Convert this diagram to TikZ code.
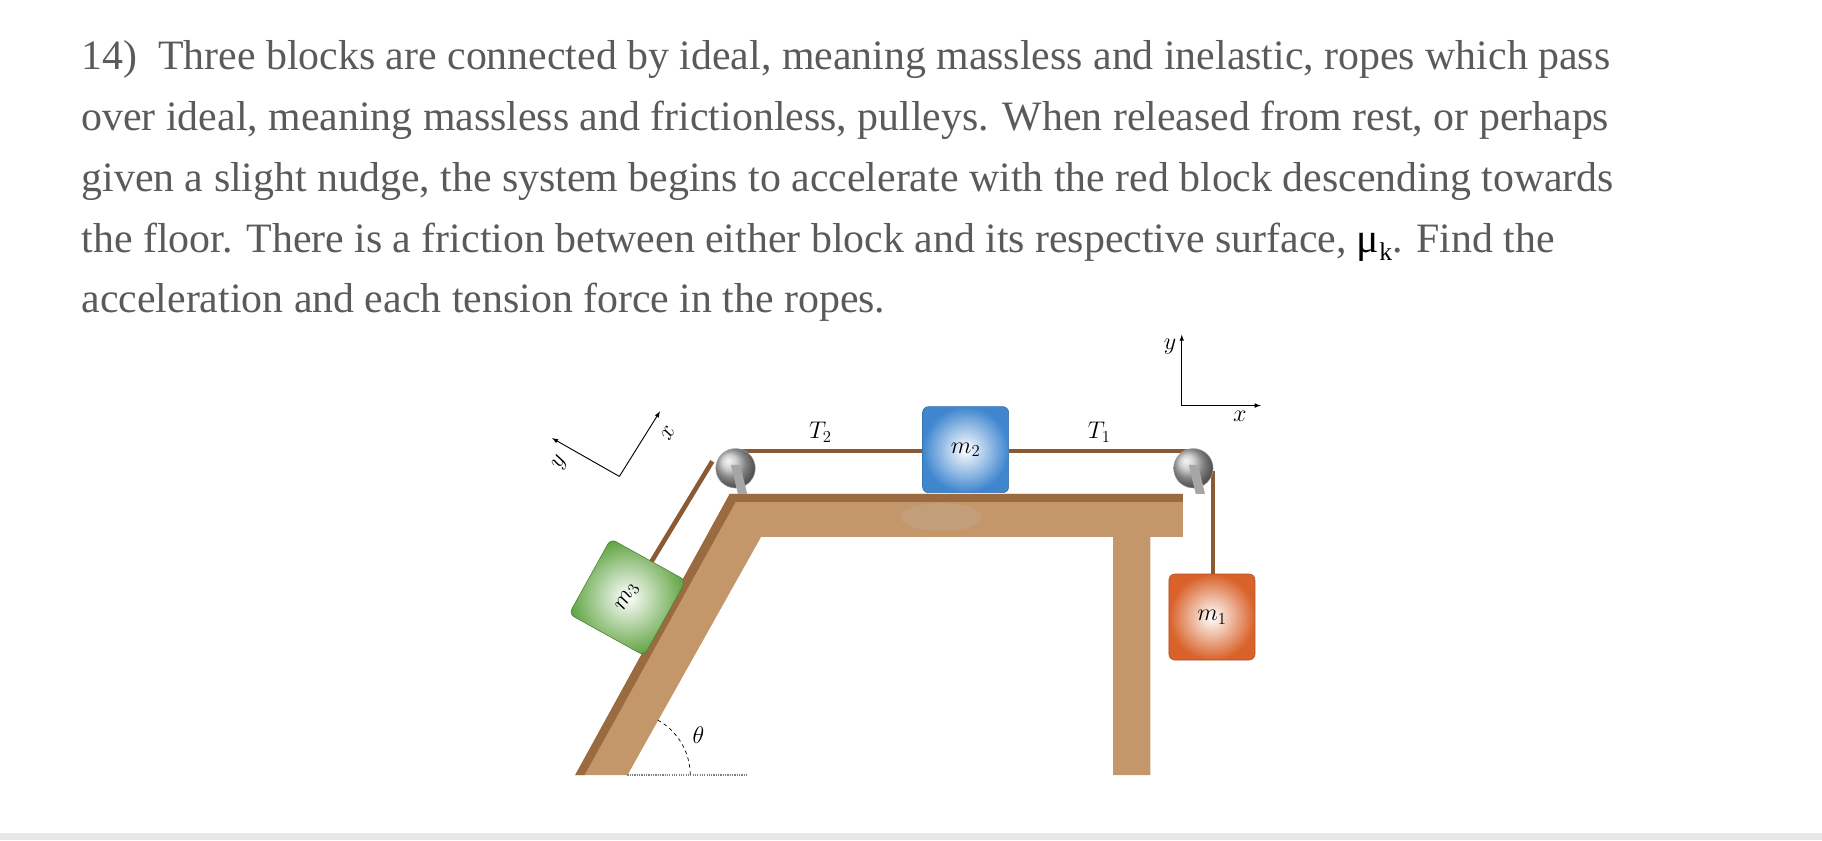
\documentclass[tikz,border=0pt]{standalone}
\usepackage{fontspec}
\setmainfont{Liberation Serif}
\usetikzlibrary{shadings}
\definecolor{txt}{HTML}{5A5A5A}
\definecolor{wood}{HTML}{C4976A}
\definecolor{wooddark}{HTML}{9A6A40}
\definecolor{rope}{HTML}{8A5A35}
\definecolor{bluec}{HTML}{3F86CF}
\definecolor{redc}{HTML}{D9622A}
\definecolor{greenc}{HTML}{5FA340}
\tikzset{
 line/.style={font=\fontsize{36}{36}\selectfont, text=txt, anchor=base west, inner sep=0},
 blockbox/.style={minimum size=74pt, rounded corners=5pt, inner sep=0, font=\fontsize{22}{22}\selectfont\itshape},
 ropeline/.style={draw=rope, line width=4pt},
 axis/.style={-latex, line width=0.8pt},
 lbl/.style={font=\fontsize{20}{20}\selectfont\itshape, inner sep=1pt},
}
\begin{document}
\begin{tikzpicture}[x=1pt,y=-1pt]
\useasboundingbox (0,0) rectangle (1568,723);
\fill[gray!18] (0,717) rectangle (1568,723);
% text
\node[line] (l1) at (70,60) {14)\ \ Three blocks are connected by ideal, meaning massless and inelastic, ropes which pass};
\node[line] (l2) at (70,112) {over ideal, meaning massless and frictionless, pulleys. When released from rest, or perhaps};
\node[line] (l3) at (70,165) {given a slight nudge, the system begins to accelerate with the red block descending towards};
\node[line] (l4) at (70,217) {the floor. There is a friction between either block and its respective surface, \textcolor{black}{μ\raisebox{-7pt}{\fontsize{22}{22}\selectfont k}}. Find the};
\node[line] (l5) at (70,269) {acceleration and each tension force in the ropes.};
% table
\fill[wood] (495,667) -- (628,425) -- (1018,425) -- (1018,462) -- (990,462) -- (990,667) -- (958,667) -- (958,462) -- (655,462) -- (540,667) -- cycle;
\fill[wooddark] (628,425) -- (1018,425) -- (1018,432) -- (633,432) -- cycle;
\fill[wooddark] (495,667) -- (628,425) -- (633,432) -- (503,667) -- cycle;
\fill[wooddark!60, opacity=0.5] (810,445) ellipse (35pt and 12pt);
% dotted line and theta
\draw[densely dotted, line width=1pt, gray] (540,667) -- (643,667);
\draw[dashed, line width=0.6pt] (540,667) ++(-61:54) arc[start angle=-61, end angle=0, radius=54];
\node[lbl] (th) at (601,633) {$\theta$};
% ropes
\draw[ropeline] (633,388) -- (794,388);
\draw[ropeline] (868,388) -- (1027,388);
\draw[ropeline] (613,397) -- (559,486);
\draw[ropeline] (1044,405) -- (1044,494);
% pulleys
\foreach \n/\px in {pl/633,pr/1027}{
 \shade[ball color=gray!50] (\px,403) circle (17pt);
 \fill[gray!70] (\px-4,400) -- (\px+4,400) -- (\px+10,425) -- (\px+2,425) -- cycle;
 \node[circle, draw=gray!70, minimum size=34pt, inner sep=0] (\n) at (\px,403) {};
}
% blocks
\node[blockbox, draw=bluec!80!black, line width=0.5pt, inner color=white, outer color=bluec] (m2) at (831,387) {$m_2$};
\node[blockbox, draw=redc!80!black, line width=0.5pt, inner color=white, outer color=redc] (m1) at (1043,531) {$m_1$};
\node[blockbox, draw=greenc!80!black, line width=0.5pt, inner color=white, outer color=greenc, rotate=61] (m3) at (540,514) {$m_3$};
% labels
\node[lbl] (t2) at (706,372) {$T_2$};
\node[lbl] (t1) at (946,372) {$T_1$};
% axes
\coordinate (o) at (1017,349);
\coordinate (oy) at (1017,288);
\coordinate (ox) at (1085,349);
\draw[axis] (o) -- (oy);
\draw[axis] (o) -- (ox);
\node[lbl] (ly) at (1007,298) {$y$};
\node[lbl] (lx) at (1067,358) {$x$};
\coordinate (o2) at (533,410);
\coordinate (x2) at (568,354);
\coordinate (y2) at (475,377);
\draw[axis] (o2) -- (x2);
\draw[axis] (o2) -- (y2);
\node[lbl, rotate=61] (lx2) at (575,373) {$x$};
\node[lbl, rotate=61] (ly2) at (482,398) {$y$};
\end{tikzpicture}
\end{document}
